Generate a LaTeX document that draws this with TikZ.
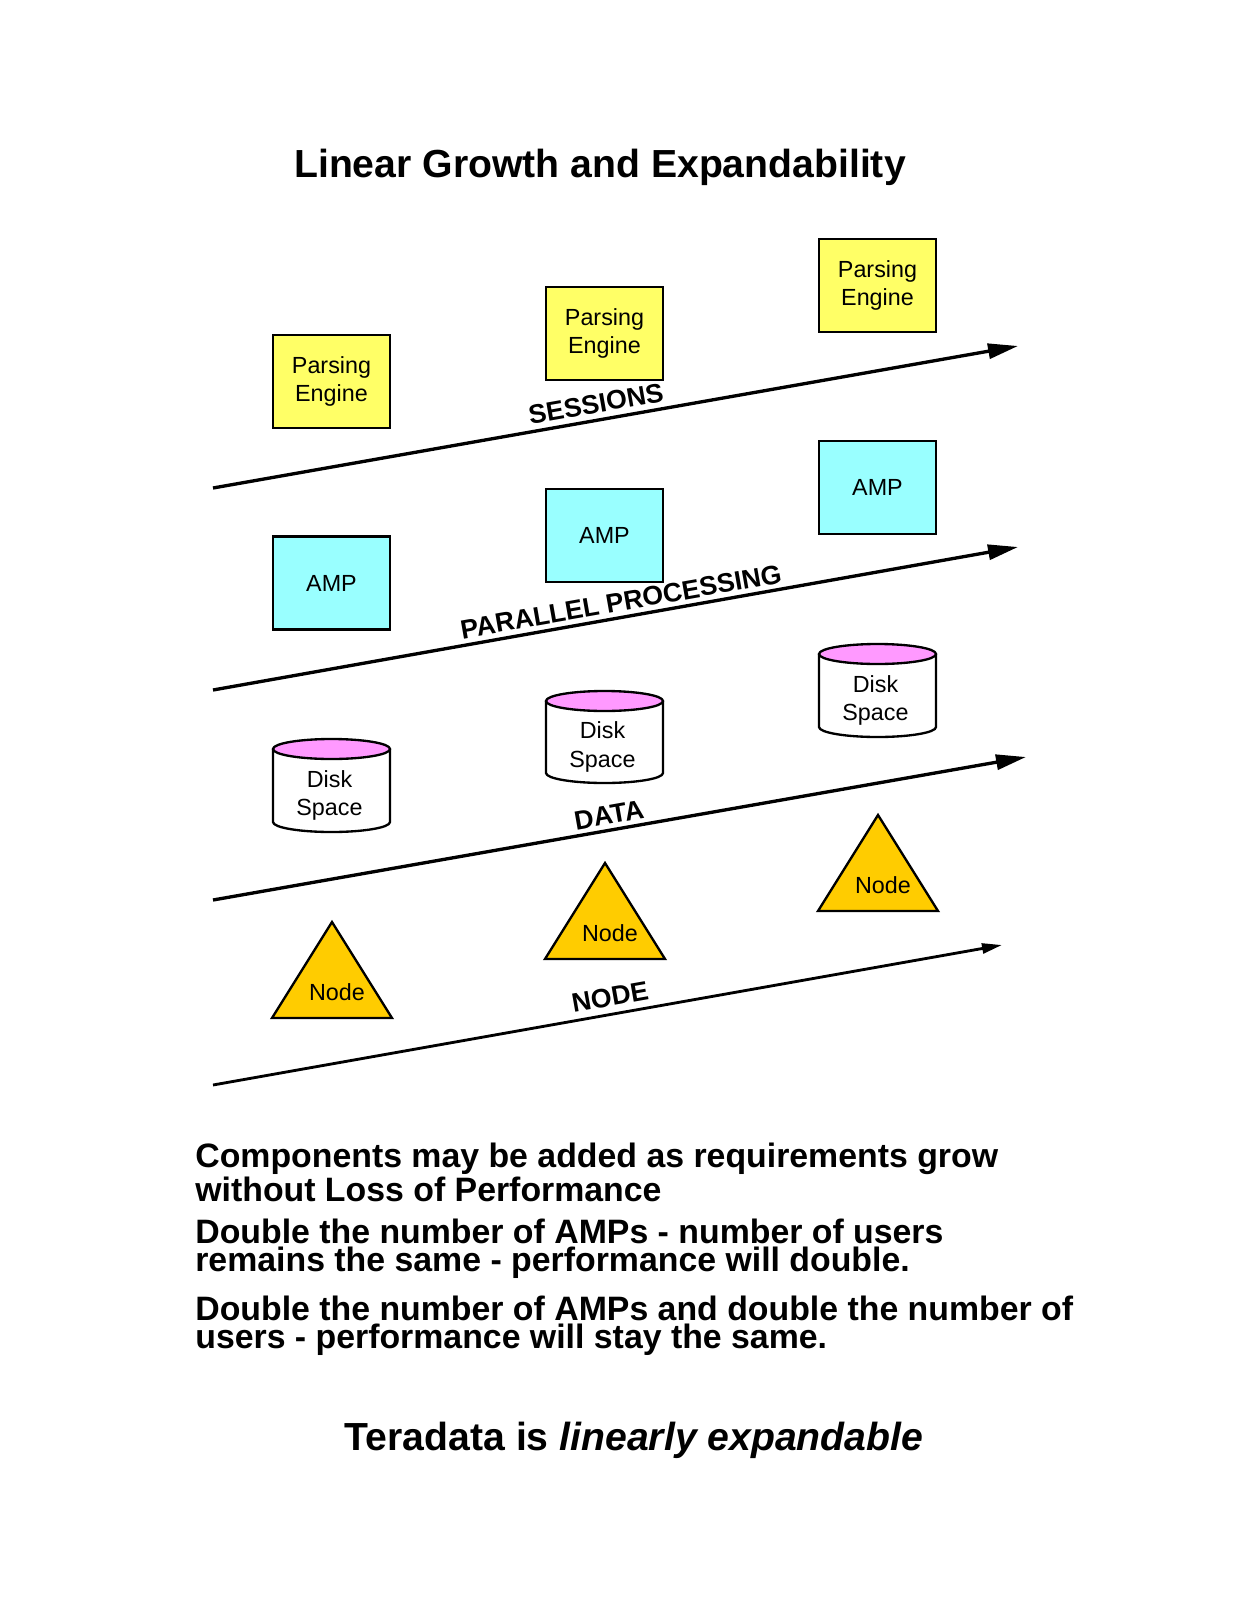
\documentclass[tikz,border=0pt]{standalone}
\usepackage{fontspec}
\setmainfont{Liberation Sans}
\usetikzlibrary{arrows.meta}
\definecolor{pey}{HTML}{FFFF66}
\definecolor{ampc}{HTML}{99FFFF}
\definecolor{diskp}{HTML}{FF99FF}
\definecolor{nodeo}{HTML}{FFCC00}
\begin{document}
\begin{tikzpicture}[x=0.6pt,y=-0.6pt,
 box/.style={draw,line width=1.4pt,minimum width=70.2pt,minimum height=55.8pt,inner sep=0pt,font=\fontsize{14}{17}\selectfont,align=center},
 flow/.style={line width=2pt,-{Triangle[length=18pt,width=9pt]}},
 flowlabel/.style={font=\bfseries\fontsize{16}{18}\selectfont,rotate=10,anchor=south,inner sep=1pt},
 body/.style={font=\bfseries\fontsize{20.3}{16.8}\selectfont,align=left,anchor=north west,inner sep=0pt},
 lbl/.style={font=\fontsize{14}{17}\selectfont,align=center}]
\path[use as bounding box] (0,0) rectangle (1236,1600);
\node[font=\bfseries\fontsize{23.5}{26}\selectfont] (title) at (600,167) {Linear Growth and Expandability};
% boxes
\node[box,fill=pey] (pe1) at (331.5,381.5) {Parsing\\Engine};
\node[box,fill=pey] (pe2) at (604.5,333.5) {Parsing\\Engine};
\node[box,fill=pey] (pe3) at (877.5,285.5) {Parsing\\Engine};
\node[box,fill=ampc] (amp1) at (331.5,583) {AMP};
\node[box,fill=ampc] (amp2) at (604.5,535.5) {AMP};
\node[box,fill=ampc] (amp3) at (877.5,487.5) {AMP};
% arrows
\coordinate (s1) at (213,488); \coordinate (s2) at (1018,346);
\coordinate (p1) at (213,690); \coordinate (p2) at (1018,547);
\coordinate (d1) at (213,900); \coordinate (d2) at (1026,757);
\coordinate (n1) at (213,1085); \coordinate (n2) at (1002,945);
\draw[flow] (s1) -- (s2);
\draw[flow] (p1) -- (p2);
\draw[flow] (d1) -- (d2);
\draw[line width=1.7pt,-{Triangle[length=12pt,width=6pt]}] (n1) -- (n2);
\node[flowlabel] (ls) at (598,415) {SESSIONS};
\node[flowlabel] (lp) at (623,613) {PARALLEL PROCESSING};
\node[flowlabel] (ld) at (611,826) {DATA};
\node[flowlabel] (ln) at (612,1008) {NODE};
% cylinders
\foreach \n/\cx/\ty/\by in {c1/331.5/749/822, c2/604.5/701/773, c3/877.5/654/727}{
 \draw[line width=1.4pt,fill=white] (\cx-58.5,\ty) -- (\cx-58.5,\by) arc[start angle=180,end angle=0,x radius=58.5,y radius=10] -- (\cx+58.5,\ty);
 \draw[line width=1.4pt,fill=diskp] (\cx,\ty) ellipse[x radius=58.5,y radius=10];
 \node[lbl] (\n) at (\cx-2,{(\ty+\by)/2+10}) {Disk\\Space};
}
% triangles
\foreach \n/\cx/\ay/\byy in {t1/332/922/1018, t2/605/863/959, t3/878/815/911}{
 \draw[line width=1.4pt,fill=nodeo] (\cx,\ay) -- (\cx+60,\byy) -- (\cx-60,\byy) -- cycle;
 \node[lbl] (\n) at (\cx+5,\byy-26) {Node};
}
\node[body] (b1) at (195,1143) {Components may be added as requirements grow\\without Loss of Performance};
\node[body] (b2) at (195,1219) {Double the number of AMPs - number of users\\remains the same - performance will double.};
\node[body] (b3) at (195,1296) {Double the number of AMPs and double the number of\\users - performance will stay the same.};
\node[font=\bfseries\fontsize{23.5}{26}\selectfont] (fin) at (634,1440) {Teradata is \textit{linearly expandable}};
\end{tikzpicture}
\end{document}
